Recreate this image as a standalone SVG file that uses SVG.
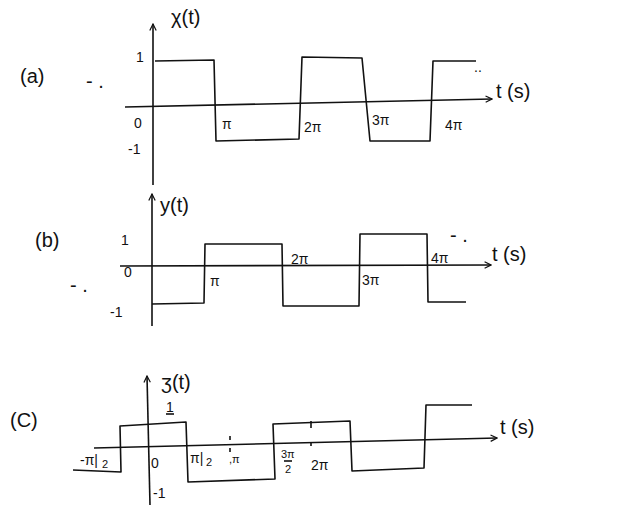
<svg xmlns="http://www.w3.org/2000/svg" width="625" height="511" viewBox="0 0 625 511">
<defs>
<marker id="ar" viewBox="0 0 10 10" refX="9" refY="5" markerWidth="8" markerHeight="8" orient="auto" markerUnits="userSpaceOnUse"><path d="M1,1 L9,5 L1,9" fill="none" stroke="#111" stroke-width="1.5"/></marker>
<style>
.l{fill:none;stroke:#111;stroke-width:1.6;stroke-linejoin:round}
.t{font-family:"Liberation Sans",sans-serif;fill:#111;font-size:14px}
.b{font-size:20px}
.s{font-size:11px}
</style>
</defs>
<rect width="625" height="511" fill="#fff"/>
<g id="plot-a">
<path class="l" d="M153,185 L153,24" marker-end="url(#ar)"/>
<path class="l" d="M125,107 L492,99" marker-end="url(#ar)"/>
<path class="l" d="M155,61 L214,60 L216,141 L299,139 L302,57 L362,58 L370,141 L430,141 L433,61 L476,61"/>
<text class="t b" x="171" y="24">χ(t)</text>
<text class="t" x="136" y="62">1</text>
<text class="t" x="134" y="128">0</text>
<text class="t" x="128" y="154">-1</text>
<text class="t" x="222" y="129">π</text>
<text class="t" x="304" y="132">2π</text>
<text class="t" x="372" y="125">3π</text>
<text class="t" x="445" y="130">4π</text>
<text class="t b" x="496" y="98">t (s)</text>
<text class="t b" x="20" y="83">(a)</text>
<text class="t b" x="86" y="88">- .</text>
<text class="t" x="474" y="72">..</text>
</g>
<g id="plot-b">
<path class="l" d="M152,326 L152,194" marker-end="url(#ar)"/>
<path class="l" d="M120,266 L491,265" marker-end="url(#ar)"/>
<path class="l" d="M152,304 L204,303 L205,244 L282,244 L283,306 L359,306 L360,234 L427,234 L428,302 L466,302"/>
<text class="t b" x="160" y="212">y(t)</text>
<text class="t" x="121" y="245">1</text>
<text class="t" x="124" y="277">0</text>
<text class="t" x="110" y="317">-1</text>
<text class="t" x="210" y="286">π</text>
<text class="t" x="291" y="264">2π</text>
<text class="t" x="362" y="285">3π</text>
<text class="t" x="431" y="263">4π</text>
<text class="t b" x="492" y="261">t (s)</text>
<text class="t b" x="35" y="247">(b)</text>
<text class="t b" x="70" y="292">- .</text>
<text class="t b" x="450" y="242">- .</text>
</g>
<g id="plot-c">
<path class="l" d="M150,505 L147,376" marker-end="url(#ar)"/>
<path class="l" d="M94,448 L497,438" marker-end="url(#ar)"/>
<path class="l" d="M73,470 L121,472 L120,426 L186,422 L188,482 L275,479 L273,424 L350,421 L352,471 L424,468 L426,405 L472,405"/>
<path class="l" d="M230,436 L230,440 M230,448 L230,452 M311,421 L311,428 M311,442 L311,446" stroke-width="1.2"/>
<text class="t b" x="161" y="389">ʒ(t)</text>
<text class="t" x="166" y="412">1</text>
<path class="l" d="M166,414 L174,414" stroke-width="1.2"/>
<text class="t" x="80" y="465">-π|</text><text class="t s" x="102" y="468">2</text>
<text class="t" x="151" y="468">0</text>
<text class="t" x="153" y="498">-1</text>
<text class="t" x="190" y="463">π|</text><text class="t s" x="206" y="466">2</text>
<text class="t s" x="229" y="463">,π</text>
<text class="t s" x="281" y="458">3π</text>
<path class="l" d="M284,461 L292,461" stroke-width="1"/>
<text class="t s" x="285" y="473">2</text>
<text class="t" x="311" y="470">2π</text>
<text class="t b" x="500" y="434">t (s)</text>
<text class="t b" x="10" y="427">(C)</text>
</g>
</svg>
